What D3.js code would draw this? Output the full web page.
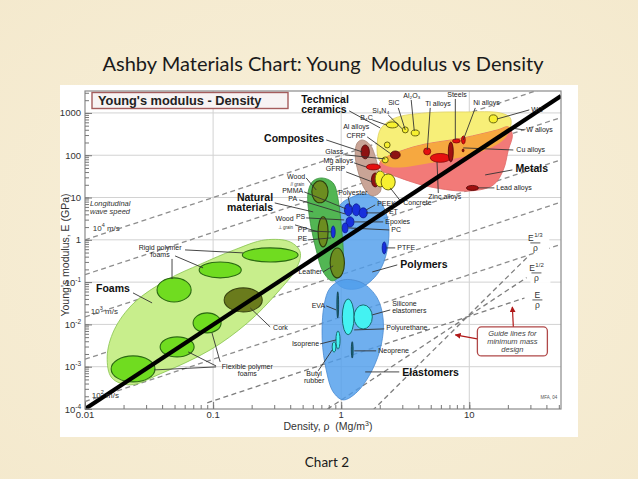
<!DOCTYPE html>
<html><head><meta charset="utf-8">
<script src="https://cdn.jsdelivr.net/npm/d3@7/dist/d3.min.js"></script>
<style>html,body{margin:0;padding:0;background:#f6edd5;overflow:hidden}</style>
</head><body>
<svg id="c" width="638" height="479" xmlns="http://www.w3.org/2000/svg"></svg>
<script>
// ================= DATA (density Mg/m3, Young's modulus GPa) =================
const densityTicks = [0.01, 0.1, 1, 10];
const densityTickLabels = ["0.01", "0.1", "1", "10"];
const modulusTicks = [1000, 100, 10, 1, 0.1, 0.01, 0.001, 0.0001];
const modulusTickLabels = [["1000",""],["100",""],["10",""],["1",""],["10","-1"],["10","-2"],["10","-3"],["10","-4"]];

// class envelopes: boundary points [density, modulus]
const foamsEnvelope = [[0.478,0.518],[0.400,0.891],[0.255,0.995],[0.146,0.577],[0.0805,0.269],[0.0437,0.113],[0.0241,0.0322],[0.0169,0.00741],[0.0149,0.00171],[0.0162,0.000543],[0.0225,0.000372],[0.0386,0.000676],[0.0948,0.00249],[0.185,0.0108],[0.316,0.0556],[0.453,0.229]];
const polymersEnvelope = [[1.176,9.79],[1.540,12.2],[2.017,7.87],[2.328,2.65],[2.287,0.577],[1.945,0.165],[1.407,0.0729],[1.037,0.0729],[0.866,0.126],[0.851,0.440],[0.914,2.25],[0.982,6.68]];
const elastomersEnvelope = [[1.037,0.113],[1.459,0.0957],[1.911,0.0423],[2.129,0.0128],[2.054,0.00328],[1.748,0.00084],[1.334,0.000254],[1.037,0.000164],[0.866,0.000254],[0.764,0.00084],[0.711,0.0043],[0.736,0.0289],[0.820,0.0729]];
const naturalEnvelope = [[0.711,29.0],[0.866,22.1],[0.948,8.77],[1.0,2.25],[1.037,0.440],[0.982,0.148],[0.851,0.107],[0.723,0.174],[0.638,0.577],[0.562,3.88],[0.552,13.6],[0.604,24.7]];
const compositesEnvelope = [[1.459,230],[1.686,175],[1.876,77.4],[2.017,29.0],[2.017,13.6],[1.748,10.9],[1.540,15.1],[1.358,40.3],[1.286,102],[1.334,195]];
const ceramicsEnvelope = [[2.054,442],[2.641,762],[4.53,1000],[9.31,1056],[17.46,1000],[20.9,762],[20.9,442],[18.44,230],[12.18,120],[4.955,65.8],[2.415,52.9],[1.98,77.4],[1.911,195]];
const metalsEnvelope = [[2.017,69.5],[3.652,157],[8.977,257],[16.55,396],[20.18,467],[21.7,302],[20.18,133],[18.44,44.9],[15.4,19.8],[10.18,14.3],[4.955,17.8],[2.74,30.7],[2.054,44.9]];

// material bubbles: [name, densityLow, densityHigh, modulusLow, modulusHigh]
const foamBubbles = [
  ["Rigid foam A",0.0365,0.0674,0.034,0.126],
  ["Rigid foam B",0.0778,0.166,0.126,0.30],
  ["Rigid foam C",0.169,0.461,0.30,0.644],
  ["Flexible foam A",0.0698,0.1155,0.0063,0.0187],
  ["Flexible foam B",0.0386,0.0711,0.00171,0.00506],
  ["Flexible foam C",0.0160,0.0352,0.000437,0.0018]];
const corkBubbles = [["Cork",0.122,0.242,0.0198,0.0729]];
const naturalBubbles = [
  ["Wood parallel",0.59,0.79,7.5,25],
  ["Wood perpendicular",0.66,0.79,0.68,3.5],
  ["Leather",0.82,1.06,0.126,0.64]];
const polymerBubbles = [
  ["PMMA",1.06,1.22,3.7,7.1],
  ["PA",1.22,1.41,3.7,7.1],
  ["PEEK",1.38,1.60,3.3,5.7],
  ["Epoxies",1.09,1.26,2.0,3.5],
  ["PC",1.02,1.13,1.46,2.5],
  ["PP/PE",0.835,0.898,1.11,2.13],
  ["PTFE",2.09,2.25,0.465,0.891]];
const elastomerBubbles = [
  ["Polyurethane",1.02,1.26,0.0057,0.040],
  ["Silicone elastomers",1.26,1.75,0.0078,0.029],
  ["Isoprene",0.91,0.98,0.0026,0.0070],
  ["Butyl rubber",0.85,0.91,0.0022,0.0039]];
const elastomerDarkBubbles = [
  ["EVA",0.925,0.955,0.0143,0.059],
  ["Neoprene",1.20,1.24,0.0016,0.0039]];
const compositeBubbles = [
  ["CFRP",1.43,1.66,82,175],
  ["GFRP",1.72,1.98,17.8,38],
  ["Al alloys",2.42,2.89,82,126]];
const redBubbles = [
  ["Mg alloys",1.57,2.02,45,62],
  ["Ti alloys",4.4,5.0,102,149],
  ["Zinc alloys",4.96,7.1,68,110],
  ["Steels",7.4,8.5,195,243],
  ["Ni alloys",8.7,9.3,185,286]];
const darkMetalBubbles = [
  ["Cast irons",6.86,7.5,69.5,206],
  ["Cu alloys",8.8,9.1,120,140],
  ["Lead alloys",9.5,11.8,14.7,19.3]];
const ceramicBubbles = [
  ["B4C",2.25,2.79,442,613],
  ["SiC",3.0,3.34,337,467],
  ["Al2O3",3.52,4.07,286,396],
  ["Silica",2.17,2.41,149,206],
  ["Glass",2.09,2.33,66,91],
  ["WC",14.3,16.6,581,900],
  ["Concrete A",1.84,2.21,17.8,42.5],
  ["Concrete B",2.05,2.64,15.1,36.1]];

// guide lines: wave speed lines E/rho = k ; minimum mass lines E = C*rho^n
const waveSpeedK = [100, 15, 1.5, 0.15, 0.015];
const guideLines = [ // [exponent n, C, densityFrom, densityTo]
  [1, 0.00156, 0.09, 27],
  [2, 0.000163, 0.78, 28],
  [3, 0.000017, 1.75, 29]];
const trendLine = [[0.01, 0.0001], [52, 2500]];

// labels: [text (| = new line), density, modulus, anchor]
const groupLabels = [
  ["Technical|ceramics",0.487,1722,"start"],
  ["Composites",0.737,206,"end"],
  ["Metals",22.9,40.3,"start"],
  ["Natural|materials",0.294,8.32,"end"],
  ["Polymers",2.891,0.217,"start"],
  ["Elastomers",3.0,0.000605,"start"],
  ["Foams",0.0122,0.0587,"start"]];
const materialLabels = [
  ["Al alloys",1.037,419,"start"],["CFRP",1.10,257,"start"],
  ["SiC",2.328,1545,"start"],["Al₂O₃",3.05,2265,"start"],["Si₃N₄",1.748,1000,"start"],
  ["B₄C",1.407,684,"start"],["Ti alloys",4.53,1463,"start"],["Steels",6.73,2389,"start"],
  ["Ni alloys",10.74,1545,"start"],["WC",30.5,1056,"start"],["W alloys",27.9,355,"start"],
  ["Cu alloys",23.3,120,"start"],["Lead alloys",16.25,15.1,"start"],["Zinc alloys",4.78,9.27,"start"],
  ["Concrete",3.05,6.68,"start"],["Glass",1.037,107,"end"],["Mg alloys",1.241,65.8,"end"],
  ["GFRP",1.075,42.5,"end"],["Wood",0.524,27.5,"end"],["PMMA",0.505,12.8,"end"],
  ["PA",0.453,8.32,"end"],["PS",0.524,3.12,"end"],["Wood",0.425,2.75,"end"],
  ["PP",0.543,1.54,"end"],["PE",0.543,0.942,"end"],["Leather",0.711,0.156,"end"],
  ["Polyester",0.948,11.5,"start"],["PEEK",1.911,6.33,"start"],["PET",2.168,4.09,"start"],
  ["Epoxies",2.207,2.38,"start"],["PC",2.46,1.54,"start"],["PTFE",2.74,0.577,"start"],
  ["Rigid polymer|foams",0.0386,0.577,"middle"],["Flexible polymer|foams",0.185,0.000887,"middle"],
  ["Cork",0.294,0.00741,"start"],["EVA",0.75,0.0245,"end"],["Silicone|elastomers",2.50,0.0274,"start"],
  ["Polyurethane",2.248,0.00741,"start"],["Isoprene",0.673,0.0031,"end"],["Neoprene",1.945,0.00212,"start"],
  ["Butyl|rubber",0.615,0.000605,"middle"]];
const grainLabels = [["// grain",0.515,19.0],["⊥ grain",0.42,1.85]];
const speedLabels = [["Longitudinal|wave speed",0.01094,6.33],["10|4| m/s",0.0115,1.62],["10|3| m/s",0.0111,0.0177],["10|2| m/s",0.0113,0.000183]];
const guideLabels = [["1/3",34.6,0.845],["1/2",35.3,0.165],["",35.9,0.0379]];
const guideBox = [21.7, 0.00407, "Guide lines for|minimum mass|design"];
const guideArrows = [[11.55,0.00454,7.78,0.00565],[22.07,0.00872,21.7,0.0259]];
const creditLabel = ["MFA, 04",48.7,0.000173];

// leader lines: [density1, modulus1, density2, modulus2]
const leaders = [
  [1.155,1115,2.017,442],[0.764,230,1.459,120],[1.596,271,2.503,102],[2.79,1313,3.162,396],
  [3.52,2028,3.72,375],[2.328,897,3.0,419],[1.748,684,2.248,521],[4.955,1313,4.70,133],
  [7.78,2143,7.78,230],[11.14,1313,8.977,230],[29.4,1178,16.55,722],[26.9,396,20.9,442],
  [22.07,133,8.977,149],[21.7,44.9,13.3,34.2],[15.7,16.9,11.75,16.9],[5.73,12.8,5.60,69.5],
  [2.94,7.87,2.415,16.9],[1.075,102,2.207,81.8],[1.264,65.8,1.567,52.9],[1.094,40.3,1.748,23.4],
  [0.533,29.0,0.638,15.1],[0.514,13.6,1.094,5.37],[0.470,8.77,1.075,4.09],[0.533,3.30,1.055,2.95],
  [0.436,2.25,0.661,1.54],[0.552,1.62,0.835,1.54],[0.552,0.995,0.835,1.11],[0.723,0.174,0.866,0.242],
  [1.134,10.3,1.176,6.0],[1.844,6.68,1.567,5.09],[2.09,4.33,1.567,4.33],[2.129,2.65,1.264,2.65],
  [2.37,1.71,1.134,1.91],[2.641,0.644,2.248,0.644],[0.303,7.45,0.604,4.57],[2.74,0.255,1.748,0.174],
  [2.84,0.000753,1.54,0.000753],[0.0237,0.0556,0.0334,0.0322],[0.0604,0.577,0.171,0.491],
  [0.0505,0.416,0.0835,0.217],[0.0478,0.353,0.0478,0.119],[0.1055,0.000989,0.0346,0.00084],
  [0.1055,0.00104,0.0638,0.00224],[0.1135,0.0013,0.098,0.0063],[0.279,0.00872,0.195,0.0245],
  [0.764,0.0274,0.914,0.022],[2.415,0.022,1.748,0.0168],[2.168,0.00783,1.264,0.00741],
  [0.685,0.00346,0.914,0.0043],[1.877,0.00237,1.264,0.00237],[0.661,0.000796,0.851,0.00249]];

// ================= DRAWING =================
const W = 638, H = 479;
const F = "'Liberation Sans', Arial, Helvetica, sans-serif";
const svg = d3.select("#c");
const x = d3.scaleLog().domain([0.01, 52]).range([85, 561]);
const y = d3.scaleLog().domain([0.0001, 3300]).range([409, 91]);

// slide background
const defs = svg.append("defs");
const grad = defs.append("radialGradient").attr("id","bg").attr("cx","50%").attr("cy","50%").attr("r","75%");
grad.append("stop").attr("offset","0%").attr("stop-color","#f8f0da");
grad.append("stop").attr("offset","100%").attr("stop-color","#f4e9cd");
svg.append("rect").attr("width",W).attr("height",H).attr("fill","url(#bg)");
svg.append("text").attr("x",323).attr("y",71).attr("text-anchor","middle")
  .attr("font-family","Lato, Carlito, 'Open Sans', sans-serif").attr("font-size",20)
  .attr("fill","#1a1a1a").style("white-space","pre")
  .text("Ashby Materials Chart: Young  Modulus vs Density");
svg.append("text").attr("x",327).attr("y",467).attr("text-anchor","middle")
  .attr("font-family","Lato, Carlito, 'Open Sans', sans-serif").attr("font-size",13.5)
  .attr("fill","#1a1a1a").text("Chart 2");

// white panel
svg.append("rect").attr("x",60).attr("y",85).attr("width",518).attr("height",352).attr("fill","#ffffff");

defs.append("clipPath").attr("id","plotClip").append("rect")
  .attr("x",x.range()[0]).attr("y",y.range()[1]).attr("width",x.range()[1]-x.range()[0]).attr("height",y.range()[0]-y.range()[1]);
const plot = svg.append("g").attr("clip-path","url(#plotClip)");

// grid
plot.selectAll(".vg").data(densityTicks.slice(1)).join("line")
  .attr("x1",d=>x(d)).attr("x2",d=>x(d)).attr("y1",y.range()[1]).attr("y2",y.range()[0])
  .attr("stroke","#d2d2d2").attr("stroke-width",1);
plot.selectAll(".hg").data(modulusTicks.slice(0,-1)).join("line")
  .attr("y1",d=>y(d)).attr("y2",d=>y(d)).attr("x1",x.range()[0]).attr("x2",x.range()[1])
  .attr("stroke","#d2d2d2").attr("stroke-width",1);

// dashed guide lines
const dom = x.domain();
plot.selectAll(".ws").data(waveSpeedK).join("line")
  .attr("x1",x(dom[0])).attr("y1",k=>y(k*dom[0])).attr("x2",x(dom[1])).attr("y2",k=>y(k*dom[1]))
  .attr("stroke","#8d8d8d").attr("stroke-width",1.3).attr("stroke-dasharray","5,3.5");
plot.selectAll(".gl").data(guideLines).join("line")
  .attr("x1",d=>x(d[2])).attr("y1",d=>y(d[1]*Math.pow(d[2],d[0])))
  .attr("x2",d=>x(d[3])).attr("y2",d=>y(d[1]*Math.pow(d[3],d[0])))
  .attr("stroke","#7d7d7d").attr("stroke-width",1.3).attr("stroke-dasharray","5,3.5");

// envelopes
const env = d3.line().x(d=>x(d[0])).y(d=>y(d[1])).curve(d3.curveCatmullRomClosed.alpha(0.5));
function envelope(pts, fill, stroke, op){
  return plot.append("path").attr("d",env(pts)).attr("fill",fill).attr("fill-opacity",op||1)
    .attr("stroke",stroke).attr("stroke-width",0.8);
}
envelope(foamsEnvelope,"#c8ee8c","#86c34c");
envelope(polymersEnvelope,"#4f9eeb","#4a8ad0",0.82);
envelope(elastomersEnvelope,"#4f9eeb","#4a8ad0",0.82);
envelope(naturalEnvelope,"#52b653","#3a9040");
envelope(compositesEnvelope,"#c9a496","#a88676");
envelope(ceramicsEnvelope,"#f7ef78","#e0d060");
envelope(metalsEnvelope,"#f27a78","#e06a68");
defs.append("clipPath").attr("id","ceramClip").append("path").attr("d",env(ceramicsEnvelope));
plot.append("path").attr("d",env(metalsEnvelope)).attr("fill","#f6a840").attr("clip-path","url(#ceramClip)");

// bubbles (ellipse spanning the property ranges)
function bubbles(list, fill, stroke, sw){
  plot.append("g").selectAll("ellipse").data(list).join("ellipse")
    .attr("cx",d=>(x(d[1])+x(d[2]))/2)
    .attr("cy",d=>(y(d[3])+y(d[4]))/2)
    .attr("rx",d=>(x(d[2])-x(d[1]))/2)
    .attr("ry",d=>(y(d[3])-y(d[4]))/2)
    .attr("fill",fill).attr("stroke",stroke).attr("stroke-width",sw||1);
}
bubbles(foamBubbles,"#70dc20","#2b6a12",1.1);
bubbles(corkBubbles,"#6a7b1c","#3a4510",1.1);
bubbles(naturalBubbles,"#6c8d20","#2c3d0c",1.1);
bubbles(polymerBubbles,"#1830dc","#0a1a90",0.8);
bubbles(elastomerBubbles,"#44f2f2","#1a6a70",1);
bubbles(elastomerDarkBubbles,"#1a6a80","#0d3b45",0.8);
bubbles(compositeBubbles,"#8e1212","#4a0606",0.8);
bubbles(redBubbles,"#e51010","#800808",0.8);
bubbles(darkMetalBubbles,"#a01010","#500404",0.8);
bubbles(ceramicBubbles,"#f7f030","#6a6610",1);

// leader lines
plot.append("g").selectAll("line").data(leaders).join("line")
  .attr("x1",d=>x(d[0])).attr("y1",d=>y(d[1])).attr("x2",d=>x(d[2])).attr("y2",d=>y(d[3]))
  .attr("stroke","#333").attr("stroke-width",0.9);

// labels
function multi(sel, txt, lh){
  txt.split("|").forEach((t,i)=>sel.append("tspan").attr("x",sel.attr("x")).attr("dy",i?lh:0).text(t));
}
const lab = svg.append("g");
groupLabels.forEach(d=>{
  const t = lab.append("text").attr("x",x(d[1])).attr("y",y(d[2])).attr("text-anchor",d[3])
    .attr("font-family",F).attr("font-weight","bold").attr("font-size",10.5).attr("fill","#111");
  multi(t,d[0],10.5);
});
materialLabels.forEach(d=>{
  const t = lab.append("text").attr("x",x(d[1])).attr("y",y(d[2])).attr("text-anchor",d[3])
    .attr("font-family",F).attr("font-size",7).attr("fill","#222");
  multi(t,d[0],7);
});
grainLabels.forEach(d=>{
  lab.append("text").attr("x",x(d[1])).attr("y",y(d[2])).attr("text-anchor","end")
    .attr("font-family",F).attr("font-size",4.5).attr("fill","#333").text(d[0]);
});
// wave speed labels
{
  const d0 = speedLabels[0];
  const t = lab.append("text").attr("x",x(d0[1])).attr("y",y(d0[2])).attr("font-family",F)
    .attr("font-style","italic").attr("font-size",7.5).attr("fill","#333");
  multi(t,d0[0],8);
  speedLabels.slice(1).forEach(d=>{
    const p = d[0].split("|");
    const tt = lab.append("text").attr("x",x(d[1])).attr("y",y(d[2])).attr("font-family",F)
      .attr("font-size",8).attr("fill","#333");
    tt.append("tspan").text(p[0]);
    tt.append("tspan").attr("dy",-3.5).attr("font-size",5.5).text(p[1]);
    tt.append("tspan").attr("dy",3.5).text(p[2]);
  });
}
// guide fraction labels
guideLabels.forEach(d=>{
  const g = lab.append("g").attr("transform",`translate(${x(d[1])},${y(d[2])})`);
  g.append("rect").attr("x",-9).attr("y",-11).attr("width",20).attr("height",21).attr("fill","#fff");
  const t = g.append("text").attr("x",-3).attr("y",-2).attr("text-anchor","middle").attr("font-family",F).attr("font-size",8.5).attr("fill","#333");
  t.append("tspan").text("E");
  if (d[0]) t.append("tspan").attr("dy",-4).attr("font-size",6).attr("dx",0.5).text(d[0]);
  g.append("line").attr("x1",-8).attr("x2",2).attr("y1",0).attr("y2",0).attr("stroke","#333").attr("stroke-width",0.8);
  g.append("text").attr("x",-3).attr("y",8.5).attr("text-anchor","middle").attr("font-family",F).attr("font-size",8.5).attr("fill","#333").text("ρ");
});
// guide box & arrows
defs.append("marker").attr("id","arr").attr("viewBox","0 0 10 10").attr("refX",9).attr("refY",5)
  .attr("markerWidth",5).attr("markerHeight",5).attr("orient","auto")
  .append("path").attr("d","M0,0L10,5L0,10z").attr("fill","#b01818");
lab.selectAll(".ga").data(guideArrows).join("line")
  .attr("x1",d=>x(d[0])).attr("y1",d=>y(d[1])).attr("x2",d=>x(d[2])).attr("y2",d=>y(d[3]))
  .attr("stroke","#b01818").attr("stroke-width",1.2).attr("marker-end","url(#arr)");
{
  const gx = x(guideBox[0]), gy = y(guideBox[1]);
  lab.append("rect").attr("x",gx-35).attr("y",gy-14).attr("width",70).attr("height",29).attr("rx",4)
    .attr("fill","#fff").attr("stroke","#b04848").attr("stroke-width",1.3);
  const t = lab.append("text").attr("x",gx).attr("y",gy-4.5).attr("text-anchor","middle").attr("font-family",F)
    .attr("font-style","italic").attr("font-size",7.5).attr("fill","#444");
  multi(t,guideBox[2],8);
}
lab.append("text").attr("x",x(creditLabel[1])).attr("y",y(creditLabel[2])).attr("text-anchor","end")
  .attr("font-family",F).attr("font-size",4.5).attr("fill","#555").text(creditLabel[0]);

// trend line
plot.append("path").attr("d",d3.line().x(d=>x(d[0])).y(d=>y(d[1]))(trendLine))
  .attr("stroke","#000").attr("stroke-width",4.2).attr("fill","none");

// frame & axes
svg.append("rect").attr("x",x.range()[0]).attr("y",y.range()[1]).attr("width",x.range()[1]-x.range()[0])
  .attr("height",y.range()[0]-y.range()[1]).attr("fill","none").attr("stroke","#8a8a8a").attr("stroke-width",1.2);
const axB = svg.append("g").attr("transform",`translate(0,${y.range()[0]})`);
axB.call(d3.axisBottom(x).tickValues(x.ticks()).tickSize(-4).tickFormat(""));
axB.append("g").call(d3.axisBottom(x).tickValues(densityTicks).tickSize(-7).tickFormat(""));
const axL = svg.append("g").attr("transform",`translate(${x.range()[0]},0)`);
axL.call(d3.axisLeft(y).tickValues(y.ticks()).tickSize(-4).tickFormat(""));
axL.append("g").call(d3.axisLeft(y).tickValues(modulusTicks).tickSize(-7).tickFormat(""));
svg.selectAll(".domain").remove();
svg.selectAll(".tick line").attr("stroke","#777");

svg.selectAll(".xl").data(densityTicks).join("text")
  .attr("x",d=>x(d)).attr("y",418).attr("text-anchor","middle").attr("font-family",F)
  .attr("font-size",9.5).attr("fill","#333").text((d,i)=>densityTickLabels[i]);
modulusTicks.forEach((d,i)=>{
  const l = modulusTickLabels[i];
  const t = svg.append("text").attr("x",81).attr("y",y(d)+3.5).attr("text-anchor","end")
    .attr("font-family",F).attr("font-size",9.5).attr("fill","#333");
  t.append("tspan").text(l[0]);
  if (l[1]) t.append("tspan").attr("dy",-4).attr("font-size",6.5).text(l[1]);
});
svg.append("text").attr("x",328).attr("y",430).attr("text-anchor","middle").attr("font-family",F)
  .attr("font-size",10.5).attr("fill","#333").style("white-space","pre")
  .html('Density, ρ  (Mg/m<tspan dy="-4" font-size="7">3</tspan><tspan dy="4">)</tspan>');
svg.append("text").attr("transform","translate(69,255) rotate(-90)").attr("text-anchor","middle")
  .attr("font-family",F).attr("font-size",10.5).attr("fill","#333")
  .text("Young's modulus, E (GPa)");

// panel title box
svg.append("rect").attr("x",92).attr("y",92.5).attr("width",196).attr("height",16)
  .attr("fill","#f7f3f3").attr("stroke","#a45c5c").attr("stroke-width",1.4);
svg.append("text").attr("x",98).attr("y",105).attr("font-family",F).attr("font-weight","bold")
  .attr("font-size",12.8).attr("fill","#222").text("Young's modulus - Density");
</script>
</body></html>
